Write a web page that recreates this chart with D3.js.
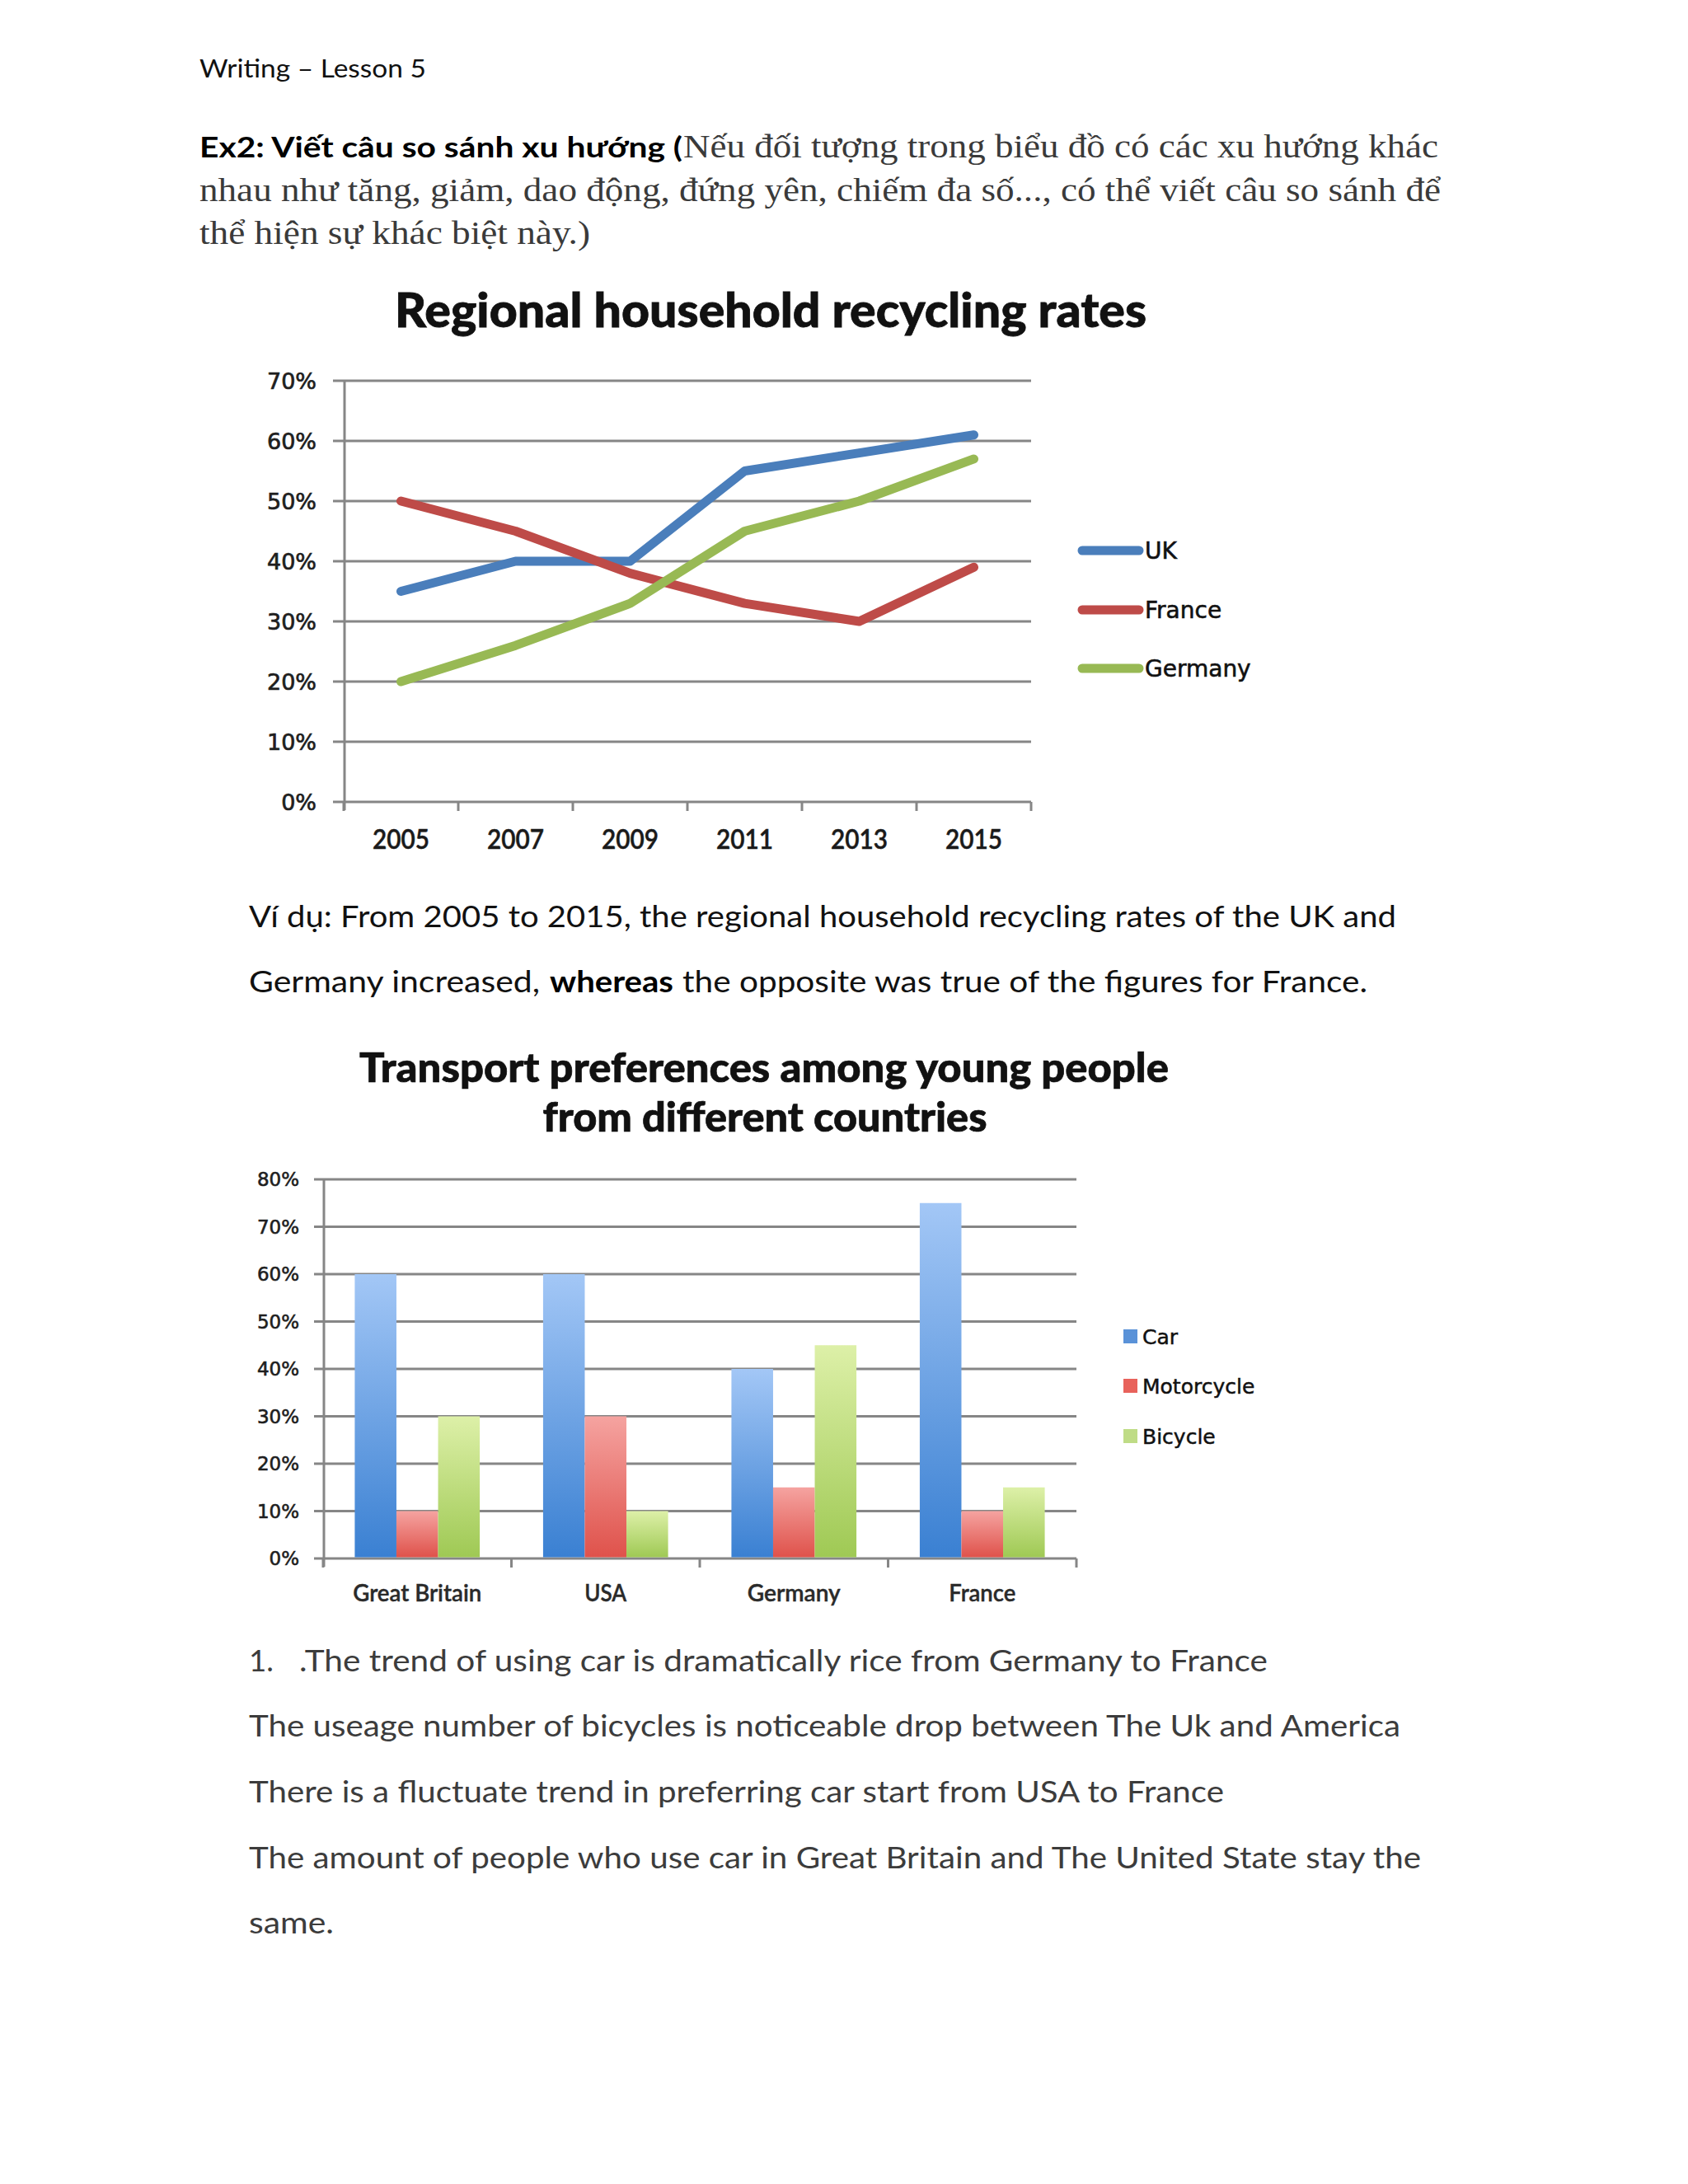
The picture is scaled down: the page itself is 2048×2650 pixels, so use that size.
<!DOCTYPE html>
<html>
<head>
<meta charset="utf-8">
<script src="https://cdn.jsdelivr.net/npm/d3@7"></script>
<style>
  html, body { margin: 0; padding: 0; background: #ffffff; }
  svg { display: block; }
</style>
</head>
<body>
<div id="page"></div>
<script>
// ---------------- DATA ----------------
const years = ["2005", "2007", "2009", "2011", "2013", "2015"];
const ukRates = [35, 40, 40, 55, 58, 61];
const franceRates = [50, 45, 38, 33, 30, 39];
const germanyRates = [20, 26, 33, 45, 50, 57];
const recyclingSeriesNames = ["UK", "France", "Germany"];
const recyclingTicks = [0, 10, 20, 30, 40, 50, 60, 70];

const countries = ["Great Britain", "USA", "Germany", "France"];
const carPref = [60, 60, 40, 75];
const motorcyclePref = [10, 30, 15, 10];
const bicyclePref = [30, 10, 45, 15];
const transportSeriesNames = ["Car", "Motorcycle", "Bicycle"];
const transportTicks = [0, 10, 20, 30, 40, 50, 60, 70, 80];

// ---------------- PAGE ----------------
const W = 2048, H = 2650;
const svg = d3.select("#page").append("svg")
  .attr("width", W).attr("height", H)
  .attr("viewBox", `0 0 ${W} ${H}`);
svg.append("rect").attr("width", W).attr("height", H).attr("fill", "#ffffff");

const defs = svg.append("defs");
function vGrad(id, top, bottom) {
  const g = defs.append("linearGradient").attr("id", id)
    .attr("x1", 0).attr("y1", 0).attr("x2", 0).attr("y2", 1);
  g.append("stop").attr("offset", "0%").attr("stop-color", top);
  g.append("stop").attr("offset", "100%").attr("stop-color", bottom);
}
vGrad("gCar", "#a3c7f6", "#3a80d2");
vGrad("gMoto", "#f5a3a0", "#df524b");
vGrad("gBike", "#ddf0a8", "#9fc954");

const SANS = "Lato, 'Open Sans', sans-serif";
const SERIF = "'Liberation Serif', 'DejaVu Serif', serif";
const VERD = "'DejaVu Sans', Verdana, sans-serif";

function txt(parent, o) {
  const t = parent.append("text")
    .attr("x", o.x).attr("y", o.y)
    .attr("font-family", o.family || SANS)
    .attr("font-size", o.size)
    .attr("font-weight", o.weight || "normal")
    .attr("fill", o.fill || "#000")
    .attr("text-anchor", o.anchor || "start")
    .text(o.text);
  if (o.width) t.attr("textLength", o.width).attr("lengthAdjust", "spacingAndGlyphs");
  if (o.heavy) t.attr("stroke", o.fill || "#000").attr("stroke-width", o.heavy);
  return t;
}

// ---------------- HEADER TEXT ----------------
txt(svg, { x: 242, y: 94, text: "Writing – Lesson 5", size: 30, width: 275, fill: "#111" });

txt(svg, { x: 242, y: 191, text: "Ex2: Viết câu so sánh xu hướng (", size: 34, weight: "bold", width: 586, fill: "#000" });
txt(svg, { x: 829, y: 191, text: "Nếu đối tượng trong biểu đồ có các xu hướng khác", size: 40, family: SERIF, width: 916, fill: "#3a3a3a" });
txt(svg, { x: 242, y: 244, text: "nhau như tăng, giảm, dao động, đứng yên, chiếm đa số..., có thể viết câu so sánh để", size: 40, family: SERIF, width: 1506, fill: "#3a3a3a" });
txt(svg, { x: 242, y: 296, text: "thể hiện sự khác biệt này.)", size: 40, family: SERIF, width: 474, fill: "#3a3a3a" });

// ---------------- CHART 1: LINE ----------------
const c1 = svg.append("g");
const x1 = d3.scalePoint().domain(years).range([417, 1251]).padding(0.5);
const y1 = d3.scaleLinear().domain([0, 70]).range([973, 462]);
const GRID = "#868686";

txt(c1, { x: 935, y: 397, text: "Regional household recycling rates", size: 58, weight: 900, anchor: "middle", width: 912, fill: "#111", heavy: 0.8 });

c1.selectAll("line.grid").data(recyclingTicks).join("line")
  .attr("class", "grid")
  .attr("x1", 404).attr("x2", 1251)
  .attr("y1", d => y1(d)).attr("y2", d => y1(d))
  .attr("stroke", GRID).attr("stroke-width", 3);
c1.append("line").attr("x1", 418).attr("x2", 418)
  .attr("y1", y1(70)).attr("y2", y1(0) + 10)
  .attr("stroke", GRID).attr("stroke-width", 3);
const step1 = x1.step();
const bounds1 = d3.range(years.length + 1).map(i => x1(years[0]) - step1 / 2 + i * step1);
c1.selectAll("line.xt").data(bounds1).join("line")
  .attr("class", "xt")
  .attr("x1", d => d).attr("x2", d => d)
  .attr("y1", y1(0)).attr("y2", y1(0) + 11)
  .attr("stroke", GRID).attr("stroke-width", 3);
c1.selectAll("text.yl").data(recyclingTicks).join("text")
  .attr("class", "yl")
  .attr("x", 384).attr("y", d => y1(d)).attr("dy", "0.36em")
  .attr("text-anchor", "end")
  .attr("font-family", VERD).attr("font-size", 27)
  .attr("fill", "#1e1e1e").attr("stroke", "#1e1e1e").attr("stroke-width", 0.7)
  .text(d => d + "%");
c1.selectAll("text.xl").data(years).join("text")
  .attr("class", "xl")
  .attr("x", d => x1(d)).attr("y", 1030)
  .attr("text-anchor", "middle")
  .attr("font-family", SANS).attr("font-size", 33).attr("font-weight", 600)
  .attr("fill", "#1a1a1a").attr("stroke", "#1a1a1a").attr("stroke-width", 0.5)
  .attr("textLength", 69).attr("lengthAdjust", "spacingAndGlyphs")
  .text(d => d);

const lineColors = ["#4a7ebb", "#be4b48", "#98b954"];
const lineSeries = [ukRates, franceRates, germanyRates];
const lineGen = d3.line().x((d, i) => x1(years[i])).y(d => y1(d));
c1.selectAll("path.series").data(lineSeries).join("path")
  .attr("class", "series")
  .attr("d", d => lineGen(d))
  .attr("fill", "none")
  .attr("stroke", (d, i) => lineColors[i])
  .attr("stroke-width", 11)
  .attr("stroke-linejoin", "round")
  .attr("stroke-linecap", "round");

const leg1Y = [668, 740, 811];
recyclingSeriesNames.forEach((name, i) => {
  c1.append("line").attr("x1", 1313).attr("x2", 1382)
    .attr("y1", leg1Y[i]).attr("y2", leg1Y[i])
    .attr("stroke", lineColors[i]).attr("stroke-width", 11)
    .attr("stroke-linecap", "round");
  c1.append("text").attr("x", 1389).attr("y", leg1Y[i]).attr("dy", "0.36em")
    .attr("font-family", VERD).attr("font-size", 28)
    .attr("fill", "#111").attr("stroke", "#111").attr("stroke-width", 0.6)
    .text(name);
});

// ---------------- EXAMPLE TEXT ----------------
txt(svg, { x: 302, y: 1125, text: "Ví dụ: From 2005 to 2015, the regional household recycling rates of the UK and", size: 37, width: 1392, fill: "#111" });
txt(svg, { x: 302, y: 1204, text: "Germany increased,", size: 37, width: 353, fill: "#111" });
txt(svg, { x: 667, y: 1204, text: "whereas", size: 37, weight: "bold", width: 150, fill: "#000" });
txt(svg, { x: 828, y: 1204, text: "the opposite was true of the figures for France.", size: 37, width: 831, fill: "#111" });

// ---------------- CHART 2: GROUPED BARS ----------------
const c2 = svg.append("g");
const x0 = d3.scaleBand().domain(countries).range([392, 1306]);
const xIn = d3.scaleBand().domain(transportSeriesNames).range([0, x0.bandwidth()]).paddingInner(0).paddingOuter(0.76);
const y2 = d3.scaleLinear().domain([0, 80]).range([1891, 1431]);

txt(c2, { x: 927, y: 1313, text: "Transport preferences among young people", size: 50, weight: 900, anchor: "middle", width: 982, fill: "#111", heavy: 0.7 });
txt(c2, { x: 928, y: 1373, text: "from different countries", size: 50, weight: 900, anchor: "middle", width: 539, fill: "#111", heavy: 0.7 });

c2.selectAll("line.grid").data(transportTicks).join("line")
  .attr("class", "grid")
  .attr("x1", 381).attr("x2", 1306)
  .attr("y1", d => y2(d)).attr("y2", d => y2(d))
  .attr("stroke", GRID).attr("stroke-width", 3);
c2.append("line").attr("x1", 393).attr("x2", 393)
  .attr("y1", y2(80)).attr("y2", y2(0) + 10)
  .attr("stroke", GRID).attr("stroke-width", 3);
const bounds2 = countries.map(c => x0(c)).concat([x0(countries[countries.length - 1]) + x0.bandwidth()]);
c2.selectAll("line.xt").data(bounds2).join("line")
  .attr("class", "xt")
  .attr("x1", d => d).attr("x2", d => d)
  .attr("y1", y2(0)).attr("y2", y2(0) + 11)
  .attr("stroke", GRID).attr("stroke-width", 3);

c2.selectAll("text.yl").data(transportTicks).join("text")
  .attr("class", "yl")
  .attr("x", 363).attr("y", d => y2(d)).attr("dy", "0.36em")
  .attr("text-anchor", "end")
  .attr("font-family", VERD).attr("font-size", 23)
  .attr("fill", "#1e1e1e").attr("stroke", "#1e1e1e").attr("stroke-width", 0.6)
  .text(d => d + "%");

const xLabelWidths = [156, 51, 113, 81];
c2.selectAll("text.xl").data(countries).join("text")
  .attr("class", "xl")
  .attr("x", d => x0(d) + x0.bandwidth() / 2).attr("y", 1943)
  .attr("text-anchor", "middle")
  .attr("font-family", SANS).attr("font-size", 28).attr("font-weight", 600)
  .attr("fill", "#2a2a2a").attr("stroke", "#2a2a2a").attr("stroke-width", 0.4)
  .attr("textLength", (d, i) => xLabelWidths[i]).attr("lengthAdjust", "spacingAndGlyphs")
  .text(d => d);

const barFills = ["url(#gCar)", "url(#gMoto)", "url(#gBike)"];
const barSeries = [carPref, motorcyclePref, bicyclePref];
const barData = [];
countries.forEach((c, ci) => {
  transportSeriesNames.forEach((s, si) => {
    barData.push({ country: c, series: s, si: si, value: barSeries[si][ci] });
  });
});
c2.selectAll("rect.bar").data(barData).join("rect")
  .attr("class", "bar")
  .attr("x", d => x0(d.country) + xIn(d.series))
  .attr("width", xIn.bandwidth())
  .attr("y", d => y2(d.value))
  .attr("height", d => y2(0) - y2(d.value) - 1.5)
  .attr("fill", d => barFills[d.si]);

const legSwatch = ["#5a92d8", "#e8625b", "#bfdc86"];
const leg2Y = [1622, 1682, 1743];
transportSeriesNames.forEach((name, i) => {
  c2.append("rect").attr("x", 1363).attr("y", leg2Y[i] - 9)
    .attr("width", 17).attr("height", 17).attr("fill", legSwatch[i]);
  c2.append("text").attr("x", 1386).attr("y", leg2Y[i]).attr("dy", "0.36em")
    .attr("font-family", VERD).attr("font-size", 25)
    .attr("fill", "#111").attr("stroke", "#111").attr("stroke-width", 0.5)
    .text(name);
});

// ---------------- ANSWER TEXT ----------------
const ANS = "#3c3c3c";
txt(svg, { x: 302, y: 2028, text: "1.", size: 37, width: 30, fill: ANS });
txt(svg, { x: 363, y: 2028, text: ".The trend of using car is dramatically rice from Germany to France", size: 37, width: 1175, fill: ANS });
txt(svg, { x: 302, y: 2107, text: "The useage number of bicycles is noticeable drop between The Uk and America", size: 37, width: 1397, fill: ANS });
txt(svg, { x: 302, y: 2187, text: "There is a fluctuate trend in preferring car start from USA to France", size: 37, width: 1183, fill: ANS });
txt(svg, { x: 302, y: 2267, text: "The amount of people who use car in Great Britain and The United State stay the", size: 37, width: 1422, fill: ANS });
txt(svg, { x: 302, y: 2346, text: "same.", size: 37, width: 103, fill: ANS });
</script>
</body>
</html>
